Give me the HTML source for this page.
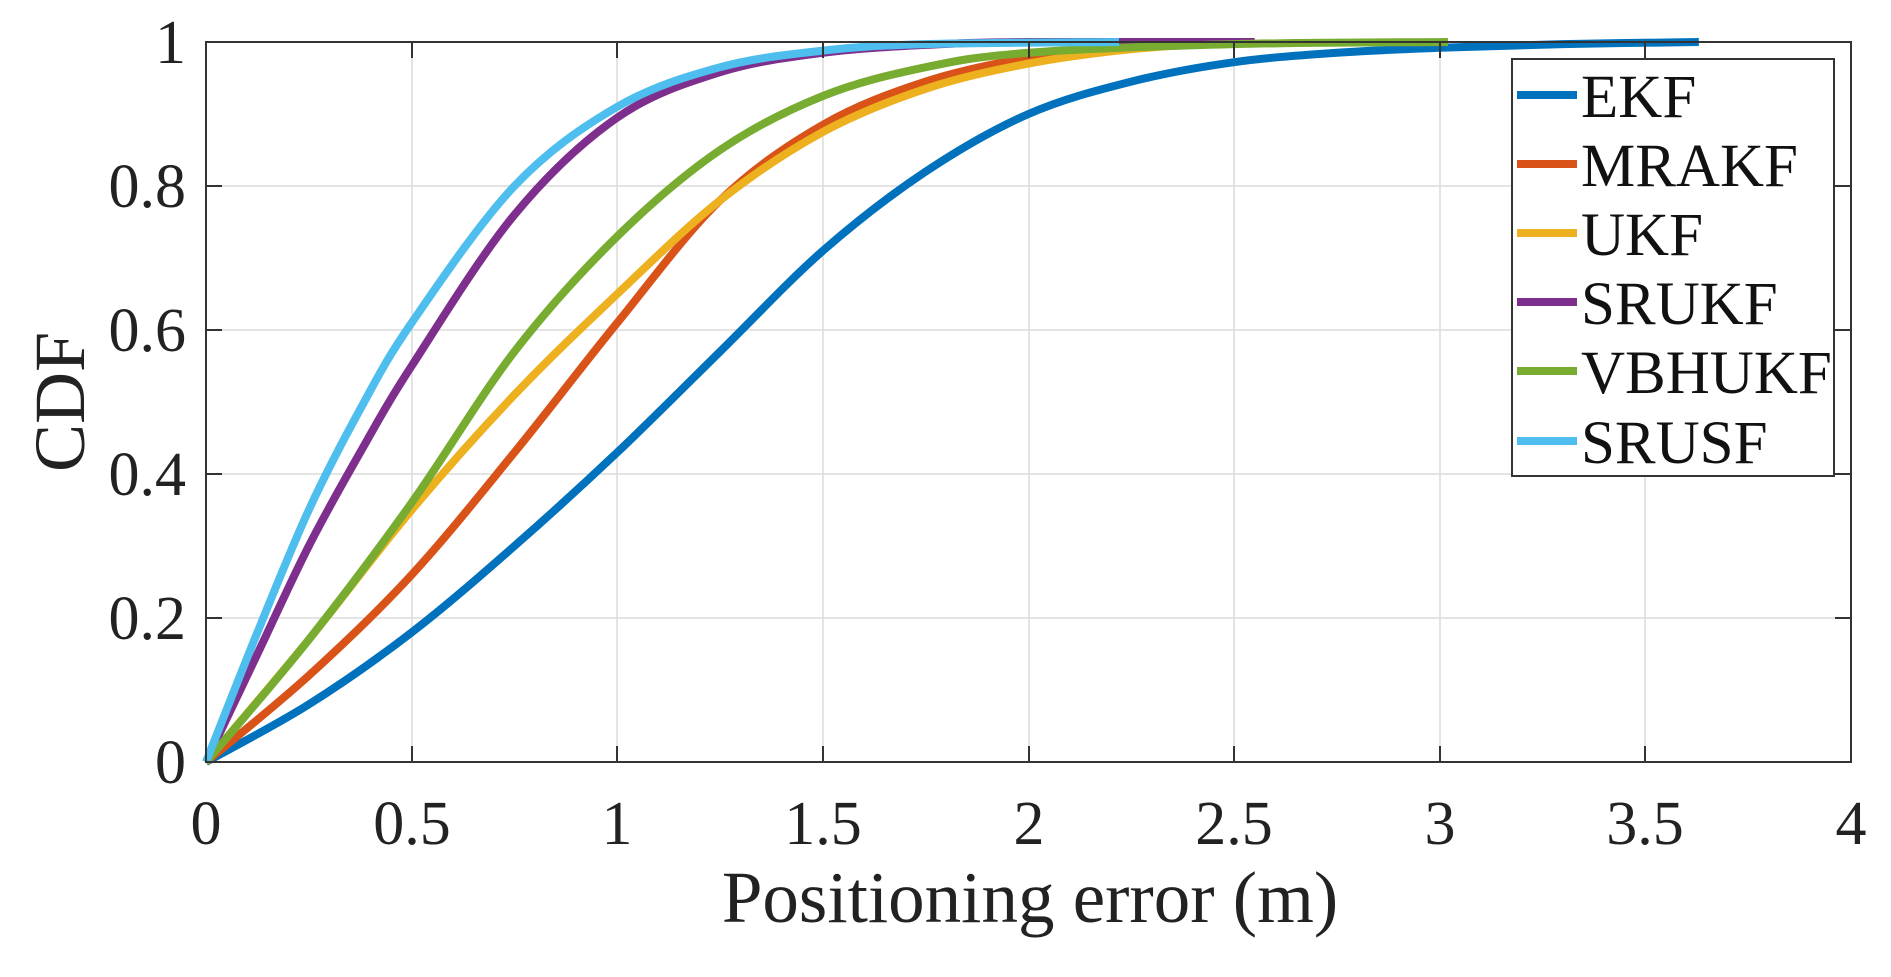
<!DOCTYPE html>
<html><head><style>body{margin:0;background:#fff}</style></head><body>
<svg id="s" width="1891" height="972" xmlns="http://www.w3.org/2000/svg" font-family="Liberation Serif, serif" fill="#222">
<g stroke="#dcdcdc" stroke-width="1.5">
<line x1="412" y1="42" x2="412" y2="762"/><line x1="617" y1="42" x2="617" y2="762"/><line x1="823" y1="42" x2="823" y2="762"/><line x1="1029" y1="42" x2="1029" y2="762"/><line x1="1234" y1="42" x2="1234" y2="762"/><line x1="1440" y1="42" x2="1440" y2="762"/><line x1="1645" y1="42" x2="1645" y2="762"/>
<line x1="206" y1="618" x2="1851" y2="618"/><line x1="206" y1="474" x2="1851" y2="474"/><line x1="206" y1="330" x2="1851" y2="330"/><line x1="206" y1="186" x2="1851" y2="186"/>
</g>
<g id="curves" fill="none" stroke-width="8" stroke-linejoin="round" stroke-linecap="butt"></g>
<rect x="206" y="42" width="1645" height="720" fill="none" stroke="#333" stroke-width="2"/>
<g stroke="#333" stroke-width="2">
<line x1="412" y1="762" x2="412" y2="746"/><line x1="617" y1="762" x2="617" y2="746"/><line x1="823" y1="762" x2="823" y2="746"/><line x1="1029" y1="762" x2="1029" y2="746"/><line x1="1234" y1="762" x2="1234" y2="746"/><line x1="1440" y1="762" x2="1440" y2="746"/><line x1="1645" y1="762" x2="1645" y2="746"/>
<line x1="412" y1="42" x2="412" y2="58"/><line x1="617" y1="42" x2="617" y2="58"/><line x1="823" y1="42" x2="823" y2="58"/><line x1="1029" y1="42" x2="1029" y2="58"/><line x1="1234" y1="42" x2="1234" y2="58"/><line x1="1440" y1="42" x2="1440" y2="58"/><line x1="1645" y1="42" x2="1645" y2="58"/>
<line x1="206" y1="618" x2="222" y2="618"/><line x1="206" y1="474" x2="222" y2="474"/><line x1="206" y1="330" x2="222" y2="330"/><line x1="206" y1="186" x2="222" y2="186"/>
<line x1="1851" y1="618" x2="1835" y2="618"/><line x1="1851" y1="474" x2="1835" y2="474"/><line x1="1851" y1="330" x2="1835" y2="330"/><line x1="1851" y1="186" x2="1835" y2="186"/>
</g>
<g font-size="62" text-anchor="middle">
<text x="206" y="844">0</text><text x="412" y="844">0.5</text><text x="617" y="844">1</text><text x="823" y="844">1.5</text><text x="1029" y="844">2</text><text x="1234" y="844">2.5</text><text x="1440" y="844">3</text><text x="1645" y="844">3.5</text><text x="1851" y="844">4</text>
</g>
<g font-size="62" text-anchor="end">
<text x="186" y="783">0</text><text x="186" y="639">0.2</text><text x="186" y="495">0.4</text><text x="186" y="351">0.6</text><text x="186" y="207">0.8</text><text x="186" y="63">1</text>
</g>
<text x="1030" y="922" font-size="73" text-anchor="middle">Positioning error (m)</text>
<text transform="translate(84,402) rotate(-90)" font-size="72" text-anchor="middle">CDF</text>
<rect x="1512" y="59" width="322" height="417" fill="#fff" stroke="#333" stroke-width="2"/>
<g stroke-width="8">
<line x1="1517" y1="95" x2="1577" y2="95" stroke="#0072BD"/>
<line x1="1517" y1="164" x2="1577" y2="164" stroke="#D95319"/>
<line x1="1517" y1="233" x2="1577" y2="233" stroke="#EDB120"/>
<line x1="1517" y1="302" x2="1577" y2="302" stroke="#7E2F8E"/>
<line x1="1517" y1="371" x2="1577" y2="371" stroke="#77AC30"/>
<line x1="1517" y1="441" x2="1577" y2="441" stroke="#4DBEEE"/>
</g>
<g font-size="61" fill="#111">
<text x="1581" y="117">EKF</text><text x="1581" y="186">MRAKF</text><text x="1581" y="255">UKF</text><text x="1581" y="324">SRUKF</text><text x="1581" y="393">VBHUKF</text><text x="1581" y="463">SRUSF</text>
</g>
</svg>
<script>
var S=[
["#0072BD",[[0,0],[0.25,0.08],[0.5,0.18],[0.75,0.3],[1,0.43],[1.25,0.57],[1.5,0.71],[1.75,0.82],[2,0.9],[2.25,0.945],[2.5,0.972],[2.75,0.985],[3,0.992],[3.3,0.997],[3.63,1]]],
["#D95319",[[0,0],[0.25,0.12],[0.5,0.26],[0.75,0.43],[1,0.61],[1.25,0.78],[1.5,0.885],[1.75,0.945],[2,0.978],[2.25,0.993],[2.5,1]]],
["#EDB120",[[0,0],[0.25,0.17],[0.5,0.35],[0.75,0.51],[1,0.65],[1.25,0.78],[1.5,0.875],[1.75,0.935],[2,0.97],[2.25,0.99],[2.5,1]]],
["#7E2F8E",[[0,0],[0.125,0.15],[0.25,0.3],[0.375,0.43],[0.5,0.55],[0.75,0.76],[1,0.895],[1.25,0.958],[1.5,0.985],[1.75,0.996],[2,1],[2.55,1]]],
["#77AC30",[[0,0],[0.25,0.17],[0.5,0.36],[0.75,0.57],[1,0.73],[1.25,0.85],[1.5,0.925],[1.75,0.965],[2,0.985],[2.5,0.997],[3.02,1]]],
["#4DBEEE",[[0,0],[0.125,0.18],[0.25,0.35],[0.375,0.49],[0.5,0.61],[0.75,0.8],[1,0.91],[1.25,0.965],[1.5,0.988],[1.75,0.997],[2.22,1]]]
];
var g=document.getElementById('curves');
function X(x){return 206+x*411.25} function Y(y){return 762-y*720}
S.forEach(function(s){
 var p=s[1].map(function(q){return [X(q[0]),Y(q[1])]});
 var d="M"+p[0][0]+","+p[0][1];
 for(var i=0;i<p.length-1;i++){
  var p0=p[Math.max(0,i-1)],p1=p[i],p2=p[i+1],p3=p[Math.min(p.length-1,i+2)];
  var c1=[p1[0]+(p2[0]-p0[0])/6,p1[1]+(p2[1]-p0[1])/6];
  var c2=[p2[0]-(p3[0]-p1[0])/6,p2[1]-(p3[1]-p1[1])/6];
  c1[1]=Math.max(c1[1],42);c2[1]=Math.max(c2[1],42);
  d+=" C"+c1[0]+","+c1[1]+" "+c2[0]+","+c2[1]+" "+p2[0]+","+p2[1];
 }
 var e=document.createElementNS("http://www.w3.org/2000/svg","path");
 e.setAttribute("d",d);e.setAttribute("stroke",s[0]);g.appendChild(e);
});
</script>
</body></html>
